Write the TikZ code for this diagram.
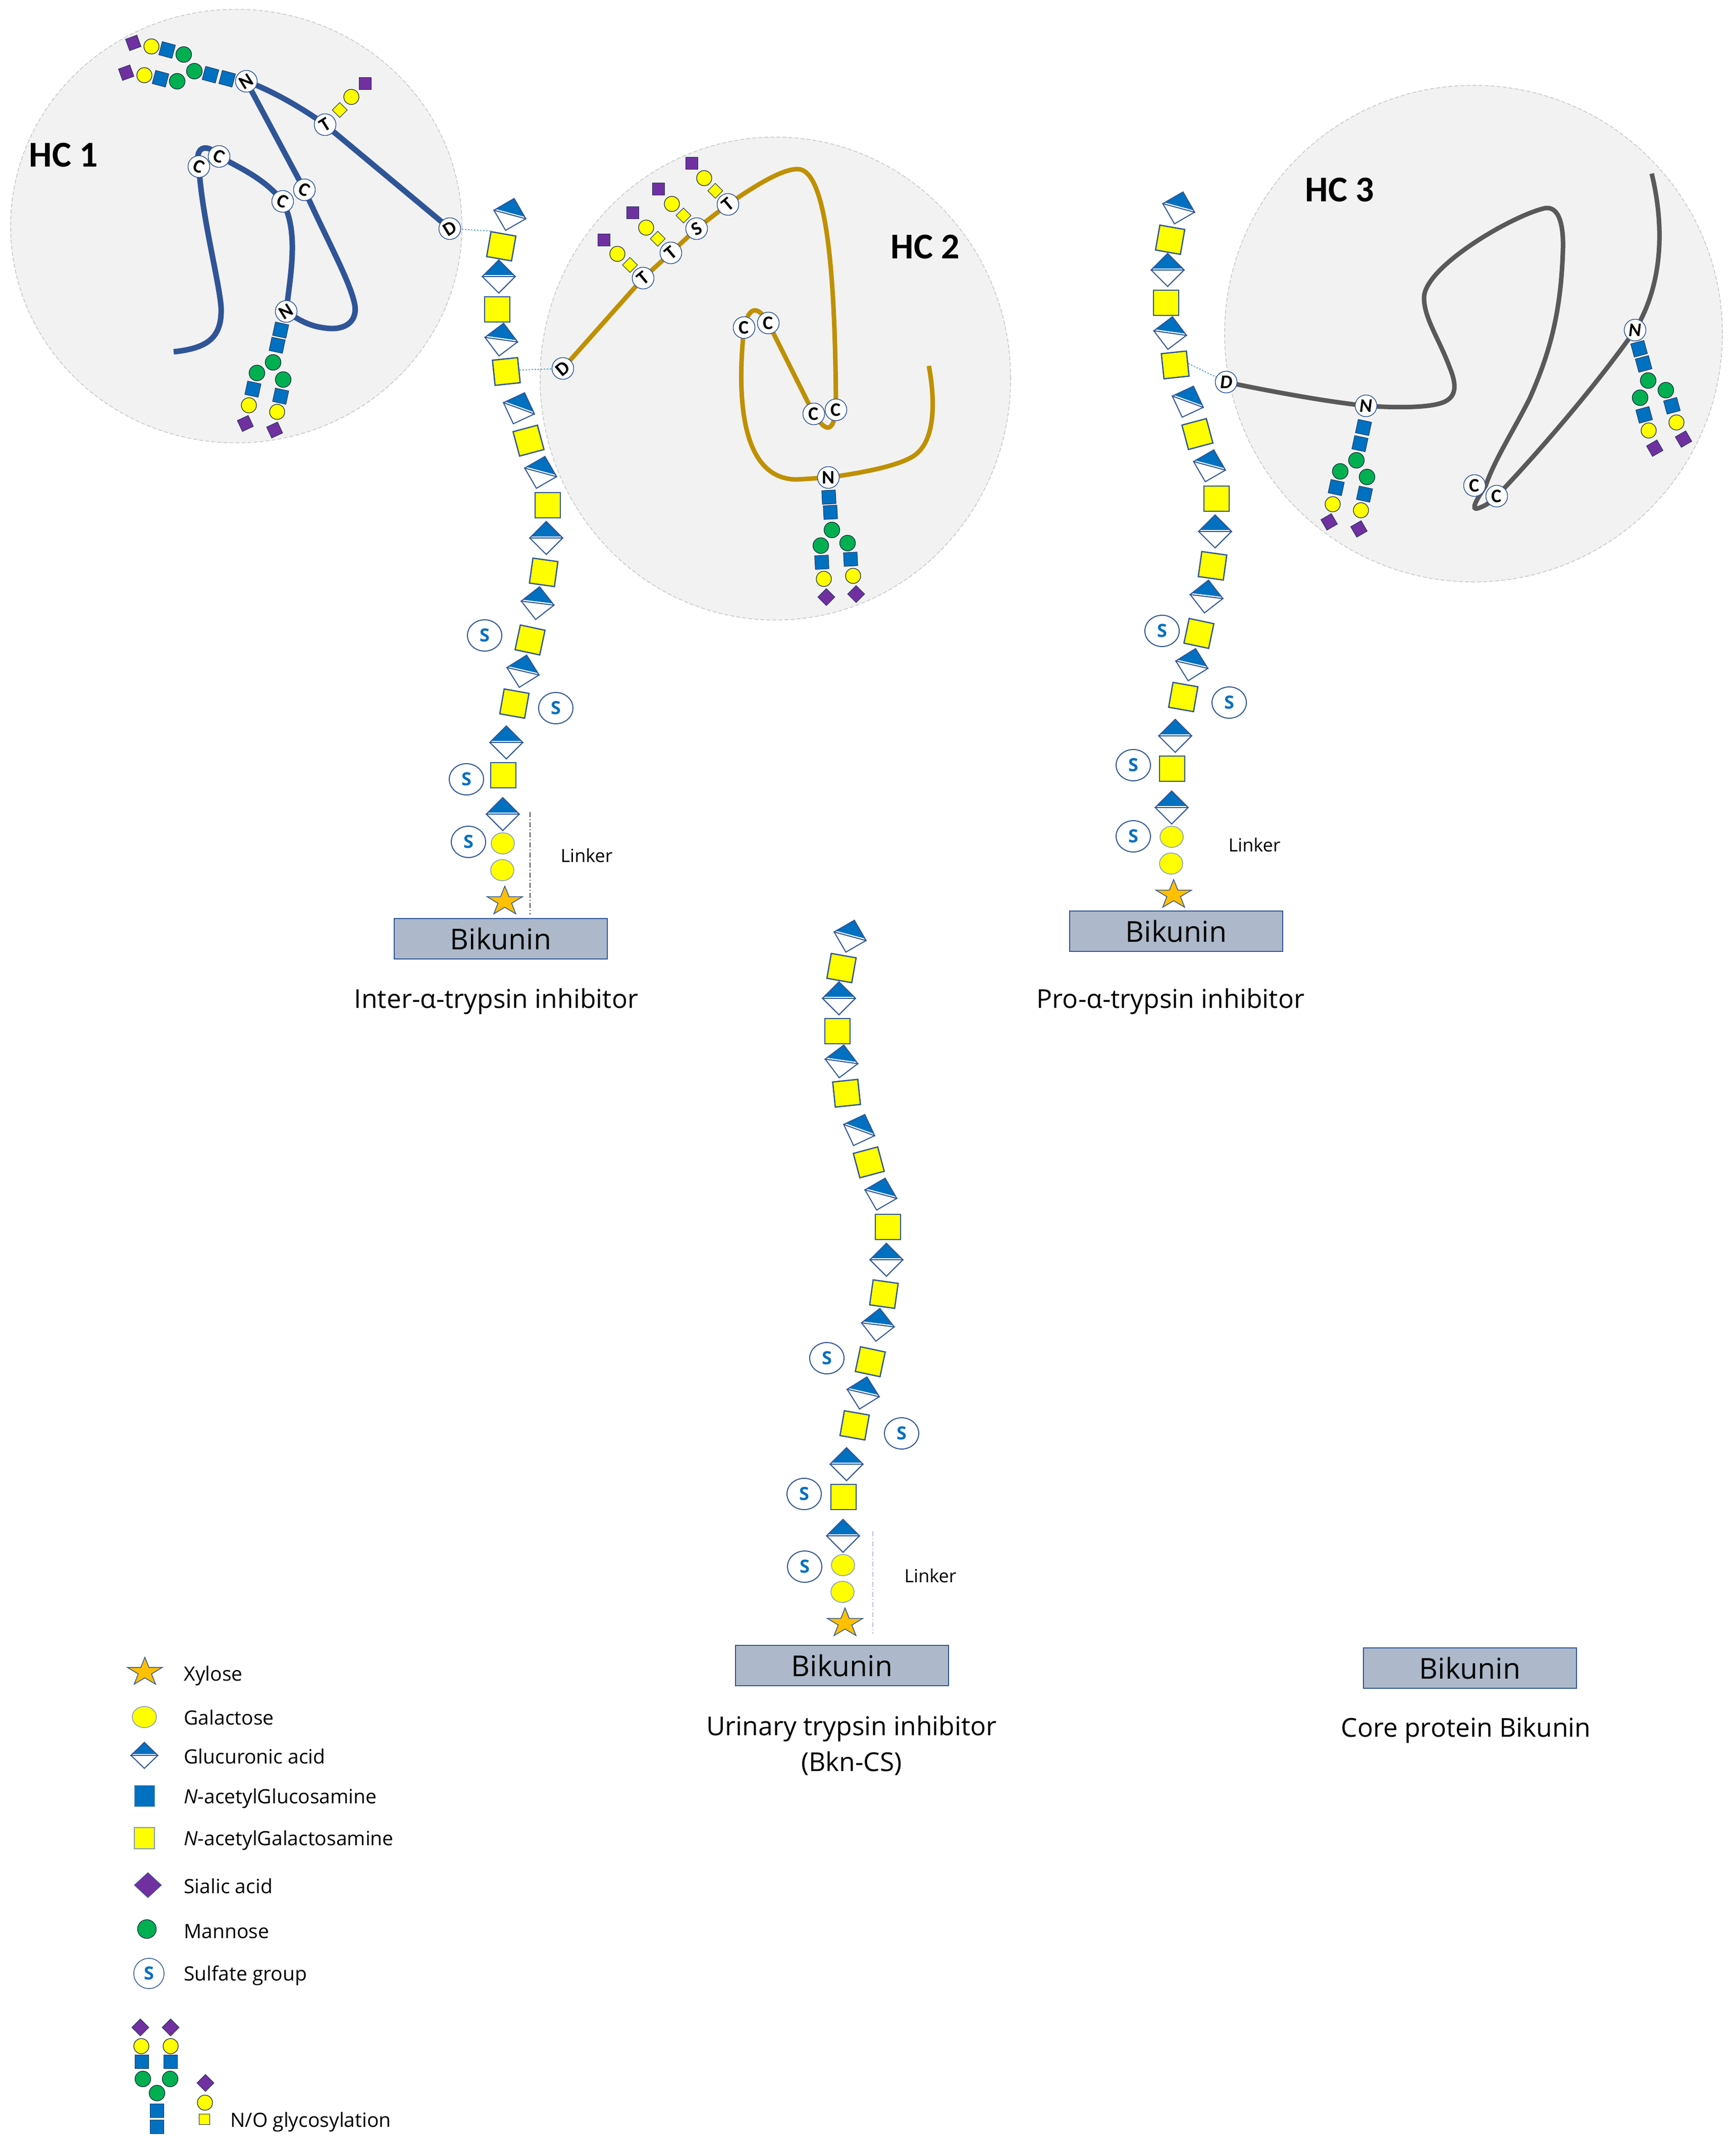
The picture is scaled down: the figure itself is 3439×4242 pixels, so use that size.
\documentclass[tikz,border=0pt]{standalone}
\usepackage{fontspec}
\setmainfont{Open Sans}
\newfontfamily\hcfont{Carlito}
\usetikzlibrary{positioning,shapes.geometric,backgrounds}

\definecolor{glyblue}{HTML}{0070C0}
\definecolor{edgeblue}{HTML}{2F5597}
\definecolor{glyyellow}{HTML}{FFFF00}
\definecolor{glygreen}{HTML}{00B050}
\definecolor{glypurple}{HTML}{7030A0}
\definecolor{xylorange}{HTML}{FFC000}
\definecolor{discgrey}{HTML}{F2F2F2}
\definecolor{bknfill}{HTML}{ADB9CA}
\definecolor{hconeblue}{HTML}{2F5597}
\definecolor{hctwogold}{HTML}{BF9000}
\definecolor{hcthreegrey}{HTML}{595959}

% one chondroitin chain with its linker, written at the place of the first one
\newcommand{\bknchain}[3]{
  \begin{scope}[shift={(#2,#3)}]
    \foreach \px/\py/\rot/\kind [count=\i] in {
      1010/425/-15/glca, 993/488/-10/galnac, 988/548/0/glca, 985/613/0/galnac,
      993/673/-8/glca, 1003/736/6/galnac, 1028/809/-20/glca, 1047/873/15/galnac,
      1071/936/-15/glca, 1085/1001/0/galnac, 1082/1066/0/glca, 1077/1134/-8/galnac,
      1065/1195/-7/glca, 1050/1268/-12/galnac, 1036/1330/-13/glca, 1019/1394/-10/galnac,
      1003/1471/0/glca, 997/1536/0/galnac, 996/1613/0/glca, 996/1671/0/gal,
      995/1724/0/gal, 1000/1786/0/xyl} {
      \node (#1g\i) [\kind,rotate=\rot] at (\px,\py) {};
    }
  \end{scope}
}
% small sugars on a heavy chain
\newcommand{\sugars}[2]{
  \foreach \px/\py/\rot/\kind [count=\i] in {#2} {
    \node (#1\i) [\kind,rotate=\rot] at (\px,\py) {};
  }
}
\newcommand{\sulfates}[2]{
  \foreach \px/\py [count=\i] in {#2} {
    \node (#1\i) [sulf] at (\px,\py) {S};
  }
}

\begin{document}
\begin{tikzpicture}
  [
  x=1pt,y=-1pt,
  galnac/.style={rectangle,draw=edgeblue,fill=glyyellow,line width=2.5,minimum size=50,inner sep=0},
  glca/.style={diamond,draw=edgeblue,line width=2,minimum size=66,inner sep=0,
    append after command={\pgfextra{
      \fill[white] (\tikzlastnode.west) -- (\tikzlastnode.north) -- (\tikzlastnode.east) -- (\tikzlastnode.south) -- cycle;
      \fill[glyblue] (\tikzlastnode.174) -- (\tikzlastnode.north) -- (\tikzlastnode.6) -- cycle;
      \draw[edgeblue,line width=2] (\tikzlastnode.west) -- (\tikzlastnode.east);
    }}},
  gal/.style={ellipse,draw=edgeblue!60,fill=glyyellow,line width=1.5,minimum width=46,minimum height=42,inner sep=0},
  xyl/.style={star,star points=5,star point ratio=2.6,draw=edgeblue,fill=xylorange,line width=1.5,minimum size=74,yscale=.82,inner sep=0},
  sulf/.style={ellipse,draw=edgeblue,fill=white,line width=2,minimum width=68,minimum height=62,inner sep=0,
    text=glyblue,font=\fontsize{36}{36}\selectfont\bfseries},
  mglcnac/.style={rectangle,draw=edgeblue!60!black,line width=1,fill=glyblue,minimum size=27,inner sep=0},
  mgalnac/.style={rectangle,draw=edgeblue!60!black,line width=1,fill=glyyellow,minimum size=21,inner sep=0},
  mman/.style={circle,draw=edgeblue!40!black,line width=1.2,fill=glygreen,minimum size=31,inner sep=0},
  mgal/.style={circle,draw=edgeblue!40!black,line width=1.2,fill=glyyellow,minimum size=30,inner sep=0},
  msia/.style={rectangle,draw=edgeblue!60!black,line width=1,fill=glypurple,minimum size=24,inner sep=0},
  res/.style={circle,draw=edgeblue,fill=white,line width=1.5,minimum size=43,inner sep=0,
    font=\hcfont\fontsize{38}{38}\selectfont\bfseries},
  disc/.style={ellipse,draw=black!22,fill=discgrey,dash pattern=on 8pt off 4pt,line width=1.5,inner sep=0},
  hclabel/.style={font=\hcfont\fontsize{72}{72}\selectfont\bfseries},
  bkn/.style={rectangle,draw=edgeblue,fill=bknfill,line width=2.5,minimum width=422,minimum height=80,inner sep=0,
    font=\fontsize{57}{57}\selectfont},
  caption/.style={align=center,font=\fontsize{51.5}{71}\selectfont},
  small/.style={font=\fontsize{36}{36}\selectfont},
  key/.style={font=\fontsize{39}{39}\selectfont,anchor=west},
  hcone/.style={draw=hconeblue,line width=11},
  hctwo/.style={draw=hctwogold,line width=9},
  hcthree/.style={draw=hcthreegrey,line width=9},
  link/.style={draw=glyblue!70,line width=1.8,dashed},
  linkerbar/.style={draw=black!70,line width=2,dash pattern=on 10pt off 4pt on 2pt off 4pt}
  ]
  \useasboundingbox (0,0) rectangle (3439,4242);

  % heavy chain 1
  \node (hc1txt) [hclabel] at (126,307) {HC 1};
  \node (hc1Na) [res,rotate=32] at (488,161) {N};
  \node (hc1T)  [res,rotate=32] at (644,247) {T};
  \node (hc1D)  [res,rotate=32] at (891,453) {D};
  \node (hc1Ca) [res,rotate=-25] at (394,330) {C};
  \node (hc1Cb) [res,rotate=-25] at (434,310) {C};
  \node (hc1Cc) [res,rotate=-25] at (560,399) {C};
  \node (hc1Cd) [res,rotate=-25] at (603,376) {C};
  \node (hc1Nb) [res,rotate=32] at (567,617) {N};
  \sugars{hc1a}{264/85/20/msia, 300/92/0/mgal, 331/99/-15/mglcnac, 364/108/0/mman,
    250/144/20/msia, 286/149/0/mgal, 318/156/-15/mglcnac, 351/161/0/mman,
    385/141/0/mman, 417/148/-15/mglcnac, 450/156/-15/mglcnac}
  \sugars{hc1b}{673/218/45/mgalnac, 696/192/0/mgal, 723/165/0/msia}
  \sugars{hc1c}{556/654/-12/mglcnac, 549/684/-12/mglcnac, 541/718/0/mman, 509/739/0/mman,
    561/752/0/mman, 501/771/-12/mglcnac, 556/785/-12/mglcnac, 493/803/0/mgal, 549/816/0/mgal,
    486/839/25/msia, 544/852/25/msia}

  % heavy chain 2
  \node (hc2txt) [hclabel] at (1833,489) {HC 2};
  \node (hc2D)  [res,rotate=40] at (1115,730) {D};
  \node (hc2Ta) [res,rotate=40] at (1274,551) {T};
  \node (hc2Tb) [res,rotate=40] at (1329,501) {T};
  \node (hc2S)  [res,rotate=30] at (1380,453) {S};
  \node (hc2Tc) [res,rotate=40] at (1442,405) {T};
  \node (hc2Ca) [res] at (1474,649) {C};
  \node (hc2Cb) [res] at (1522,640) {C};
  \node (hc2Cc) [res] at (1612,820) {C};
  \node (hc2Cd) [res] at (1656,812) {C};
  \node (hc2N)  [res] at (1641,946) {N};
  \sugars{hc2a}{1248/525/45/mgalnac, 1223/503/0/mgal, 1196/475/0/msia,
    1303/473/45/mgalnac, 1280/451/0/mgal, 1253/421/0/msia,
    1354/427/45/mgalnac, 1331/404/0/mgal, 1304/374/0/msia,
    1417/378/45/mgalnac, 1395/353/0/mgal, 1370/323/0/msia}
  \sugars{hc2b}{1642/985/3/mglcnac, 1645/1015/3/mglcnac, 1648/1050/0/mman, 1626/1081/0/mman,
    1679/1076/0/mman, 1628/1114/3/mglcnac, 1685/1108/3/mglcnac, 1632/1147/0/mgal, 1690/1141/0/mgal,
    1637/1183/45/msia, 1696/1177/45/msia}

  % heavy chain 3
  \node (hc3txt) [hclabel] at (2654,376) {HC 3};
  \node (hc3D)  [res] at (2429,757) {\itshape D};
  \node (hc3Na) [res] at (2706,804) {\itshape N};
  \node (hc3Nb) [res] at (3239,654) {\itshape N};
  \node (hc3Ca) [res] at (2921,962) {C};
  \node (hc3Cb) [res] at (2965,983) {C};
  \sugars{hc3a}{2701/847/-12/mglcnac, 2694/879/-12/mglcnac, 2687/912/0/mman, 2655/934/0/mman,
    2708/945/0/mman, 2647/966/-12/mglcnac, 2703/979/-12/mglcnac, 2640/999/0/mgal, 2696/1011/0/mgal,
    2633/1034/30/msia, 2692/1048/30/msia}
  \sugars{hc3b}{3247/691/15/mglcnac, 3256/721/15/mglcnac, 3265/754/0/mman, 3300/773/0/mman,
    3249/788/0/mman, 3257/822/15/mglcnac, 3312/804/15/mglcnac, 3266/853/0/mgal, 3321/837/0/mgal,
    3278/888/30/msia, 3335/870/30/msia}

  % the three chains and the core protein
  \bknchain{ia}{0}{0}
  \bknchain{pa}{1325}{-13}
  \bknchain{ur}{674}{1430}
  \sulfates{ias}{960/1259, 1101/1403, 924/1544, 928/1668}
  \sulfates{pas}{2302/1250, 2435/1392, 2245/1516, 2245/1657}
  \sulfates{urs}{1638/2691, 1786/2840, 1593/2960, 1594/3104}

  \node (iabkn) [bkn] at (992,1860) {Bikunin};
  \node (iacap) [caption] at (983,1984) {Inter-α-trypsin inhibitor};
  \node (ialnk) [small] at (1162,1695) {Linker};
  \coordinate (iabara) at (1050,1609);
  \coordinate (iabarb) at (1050,1812);
  \draw [linkerbar] (iabara) -- (iabarb);

  \node (pabkn) [bkn] at (2330,1845) {Bikunin};
  \node (pacap) [caption] at (2319,1984) {Pro-α-trypsin inhibitor};
  \node (palnk) [small] at (2485,1674) {Linker};

  \node (urbkn) [bkn] at (1668,3300) {Bikunin};
  \node (urcap) [caption] at (1687,3458) {Urinary trypsin inhibitor\\(Bkn-CS)};
  \node (urlnk) [small] at (1843,3122) {Linker};
  \coordinate (urbara) at (1729,3034);
  \coordinate (urbarb) at (1729,3237);
  \draw [linkerbar,draw=edgeblue!35] (urbara) -- (urbarb);

  \node (cobkn) [bkn] at (2912,3305) {Bikunin};
  \node (cocap) [caption] at (2904,3428) {Core protein Bikunin};

  % key
  \node (kxyl) [xyl,minimum size=72] at (287,3313) {};
  \node (kgal) [gal,minimum width=48,minimum height=42] at (286,3402) {};
  \node (kglc) [glca,minimum width=54,minimum height=52] at (286,3478) {};
  \node (kgn)  [rectangle,fill=glyblue,draw=edgeblue!60,line width=1,minimum width=40,minimum height=42,inner sep=0] at (286,3558) {};
  \node (kga)  [galnac,draw=edgeblue!60,minimum width=40,minimum height=42] at (286,3642) {};
  \node (ksia) [diamond,fill=glypurple,draw=edgeblue,line width=1,minimum width=54,minimum height=50,inner sep=0] at (293,3735) {};
  \node (kman) [mman,minimum size=37] at (291,3822) {};
  \node (ksul) [sulf,minimum width=60,minimum height=60,line width=1.5] at (295,3910) {S};
  \node (ttxyl) [key] at (361,3320) {Xylose};
  \node (ttgal) [key] at (361,3403) {Galactose};
  \node (ttglc) [key] at (361,3480) {Glucuronic acid};
  \node (ttgn)  [key] at (361,3563) {{\itshape N}-acetylGlucosamine};
  \node (ttga)  [key] at (361,3646) {{\itshape N}-acetylGalactosamine};
  \node (ttsia) [key] at (361,3737) {Sialic acid};
  \node (ttman) [key] at (361,3827) {Mannose};
  \node (ttsul) [key] at (361,3914) {Sulfate group};
  \sugars{kn}{278/4017/45/msia, 338/4017/45/msia, 280/4054/0/mgal, 338/4054/0/mgal,
    281/4085/0/mglcnac, 338/4085/0/mglcnac, 283/4119/0/mman, 337/4119/0/mman,
    311/4147/0/mman, 311/4182/0/mglcnac, 311/4214/0/mglcnac}
  \sugars{ko}{407/4127/45/msia, 406/4166/0/mgal, 405/4199/0/mgalnac}
  \node (ttno) [key] at (453,4204) {N/O glycosylation};

  \begin{pgfonlayer}{background}
    \node (hc1disc) [disc,minimum width=894,minimum height=859] at (468,448) {};
    \node (hc2disc) [disc,minimum width=932,minimum height=957] at (1536,750) {};
    \node (hc3disc) [disc,minimum width=986,minimum height=984] at (2919,661) {};

    \draw [link] (hc1D.center) -- (iag2.north west);
    \draw [link] (iag6.east) -- (hc2D.center);
    \draw [link] (pag6.east) -- (hc3D.center);

    \draw [hcone] (hc1Na.center) .. controls (540,180) and (600,215) .. (hc1T.center) -- (hc1D.center);
    \draw [hcone] (hc1Na.center) -- (hc1Cd.center)
      .. controls (650,480) and (695,560) .. (703,605)
      .. controls (708,640) and (680,655) .. (645,650)
      .. controls (620,647) and (600,640) .. (hc1Nb.center);
    \draw [hcone] (hc1Nb.center) .. controls (576,540) and (592,460) .. (hc1Cc.center)
      .. controls (525,355) and (480,335) .. (hc1Cb.center)
      .. controls (415,285) and (383,285) .. (hc1Ca.center)
      .. controls (400,430) and (435,560) .. (438,610)
      .. controls (440,670) and (410,690) .. (344,697);

    \draw [hctwo] (hc2D.center) -- (hc2Ta.center) -- (hc2Tb.center) -- (hc2S.center) -- (hc2Tc.center)
      .. controls (1500,365) and (1550,335) .. (1580,335)
      .. controls (1640,335) and (1655,560) .. (hc2Cd.center)
      .. controls (1650,860) and (1635,855) .. (hc2Cc.center)
      -- (hc2Cb.center)
      .. controls (1505,610) and (1485,600) .. (hc2Ca.center)
      .. controls (1460,780) and (1465,950) .. (1579,950)
      -- (hc2N.center)
      .. controls (1700,938) and (1775,925) .. (1809,904)
      .. controls (1855,875) and (1852,790) .. (1840,725);

    \draw [hcthree] (hc3D.center) .. controls (2500,772) and (2620,795) .. (hc3Na.center)
      .. controls (2760,808) and (2820,808) .. (2850,800)
      .. controls (2890,790) and (2885,760) .. (2871,726)
      .. controls (2850,670) and (2821,630) .. (2821,590)
      .. controls (2821,530) and (2990,430) .. (3058,413)
      .. controls (3090,405) and (3098,450) .. (3096,498)
      .. controls (3092,620) and (3070,700) .. (3030,790)
      .. controls (3000,850) and (2960,912) .. (hc3Ca.east)
      .. controls (2925,990) and (2912,1012) .. (2928,1007)
      .. controls (2940,1003) and (2950,998) .. (hc3Cb.center)
      .. controls (3030,915) and (3150,780) .. (hc3Nb.center)
      .. controls (3290,570) and (3300,460) .. (3272,344);
  \end{pgfonlayer}
\end{tikzpicture}
\end{document}
